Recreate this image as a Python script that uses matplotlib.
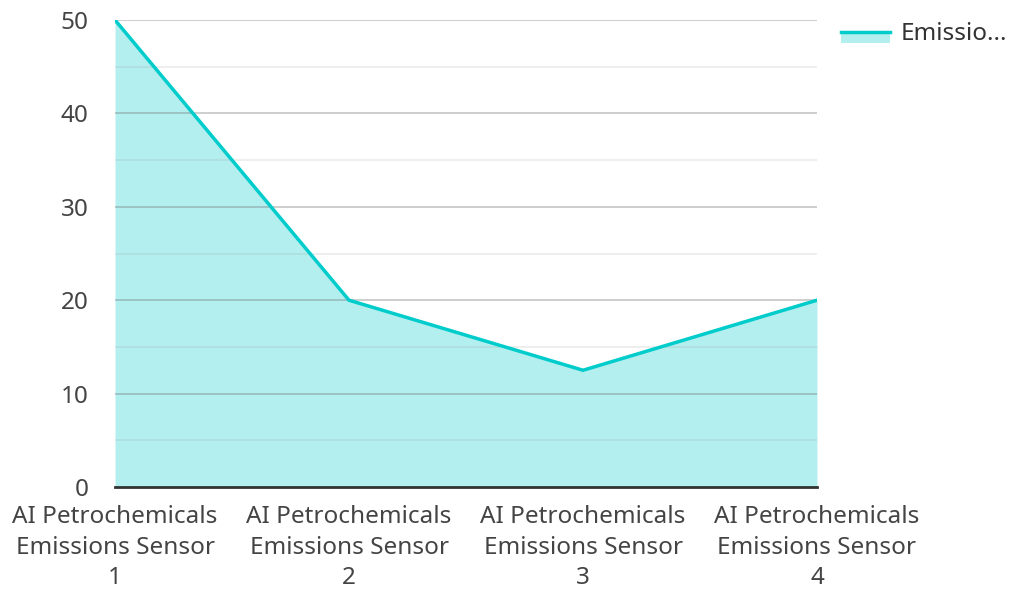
import matplotlib
matplotlib.use("Agg")
import matplotlib.pyplot as plt
from matplotlib.patches import Rectangle
from matplotlib.lines import Line2D
from matplotlib.legend_handler import HandlerBase

plt.rcParams['font.family'] = ['Noto Sans', 'DejaVu Sans']

categories = ["AI Petrochemicals\nEmissions Sensor\n1", "AI Petrochemicals\nEmissions Sensor\n2",
              "AI Petrochemicals\nEmissions Sensor\n3", "AI Petrochemicals\nEmissions Sensor\n4"]
values = [50, 20, 12.5, 20]
series_name = "Emissio..."
yticks = [0, 10, 20, 30, 40, 50]
minor_ticks = [5, 15, 25, 35, 45]

line_color = "#00cccc"
fill_color = "#b2efee"

fig = plt.figure(figsize=(10.09, 5.90), dpi=100)
ax = fig.add_axes([0.114, 0.1746, 0.6957, 0.7914])

x = list(range(len(values)))
ax.fill_between(x, values, 0, color=fill_color, zorder=1, linewidth=0)
ax.plot(x, values, color=line_color, linewidth=2.5, zorder=4, solid_joinstyle='miter')

for v in yticks[1:]:
    ax.axhline(v, color="#707070", alpha=0.4, linewidth=1.2, zorder=2)
for v in minor_ticks:
    ax.axhline(v, color="#a0a0a0", alpha=0.2, linewidth=1.2, zorder=2)

ax.set_xlim(0, len(values) - 1)
ax.set_ylim(0, 50)
ax.set_yticks(yticks)
ax.set_xticks(x)
ax.set_xticklabels(categories, linespacing=1.37)
ax.tick_params(axis='both', length=0, labelsize=17.5, colors="#444444")
ax.tick_params(axis='y', pad=19)
ax.tick_params(axis='x', pad=13)
for s in ["left", "right", "top"]:
    ax.spines[s].set_visible(False)
ax.spines["bottom"].set_color("#333333")
ax.spines["bottom"].set_linewidth(2)
ax.spines["bottom"].set_zorder(5)


class AreaHandler(HandlerBase):
    def create_artists(self, legend, orig_handle, xdescent, ydescent, width, height, fontsize, trans):
        rect = Rectangle((-xdescent, -ydescent - height * 0.15), width, height * 0.6, facecolor=fill_color,
                         edgecolor='none', transform=trans)
        ln = Line2D([-xdescent, -xdescent + width], [-ydescent + height * 0.5] * 2,
                    color=line_color, linewidth=2.5, transform=trans)
        return [rect, ln]


handle = Rectangle((0, 0), 1, 1)
fig.legend([handle], [series_name], handler_map={Rectangle: AreaHandler()},
           loc='upper left', bbox_to_anchor=(0.8335, 0.962), frameon=False,
           fontsize=17.5, labelcolor="#333333", handlelength=2.0, handletextpad=0.45,
           borderaxespad=0, borderpad=0)

fig.savefig("out.png", dpi=100)
